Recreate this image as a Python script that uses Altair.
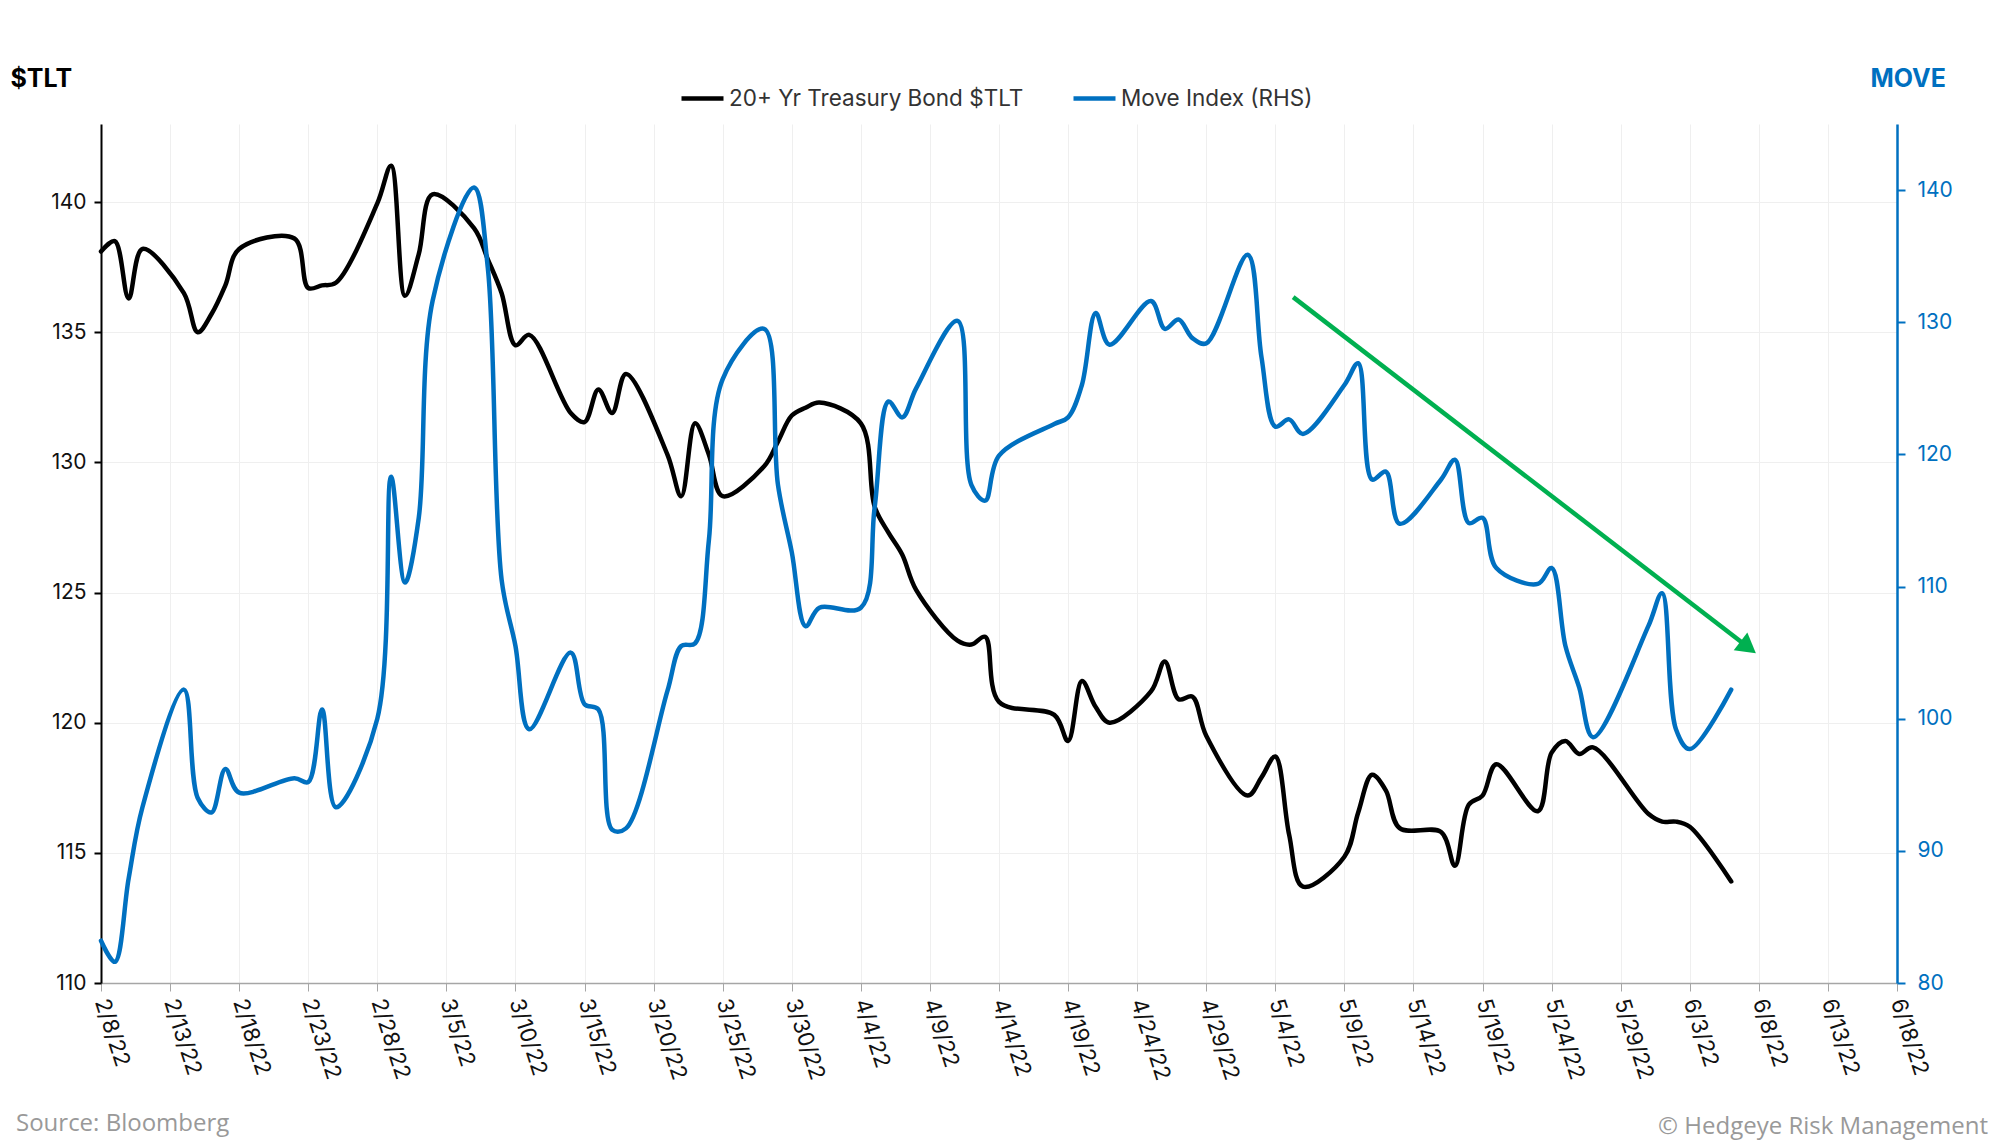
import altair as alt
import pandas as pd

# Trading days shown on the chart
dates = [
    "2022-02-08", "2022-02-09", "2022-02-10", "2022-02-11", "2022-02-14", "2022-02-15",
    "2022-02-16", "2022-02-17", "2022-02-18", "2022-02-22", "2022-02-23", "2022-02-24",
    "2022-02-25", "2022-02-28",
    "2022-03-01", "2022-03-02", "2022-03-03", "2022-03-04", "2022-03-07", "2022-03-08",
    "2022-03-09", "2022-03-10", "2022-03-11", "2022-03-14", "2022-03-15", "2022-03-16",
    "2022-03-17", "2022-03-18", "2022-03-21", "2022-03-22", "2022-03-23", "2022-03-24",
    "2022-03-25", "2022-03-28", "2022-03-29", "2022-03-30", "2022-03-31",
    "2022-04-01", "2022-04-04", "2022-04-05", "2022-04-06", "2022-04-07", "2022-04-08",
    "2022-04-11", "2022-04-12", "2022-04-13", "2022-04-14", "2022-04-18", "2022-04-19",
    "2022-04-20", "2022-04-21", "2022-04-22", "2022-04-25", "2022-04-26", "2022-04-27",
    "2022-04-28", "2022-04-29",
    "2022-05-02", "2022-05-03", "2022-05-04", "2022-05-05", "2022-05-06", "2022-05-09",
    "2022-05-10", "2022-05-11", "2022-05-12", "2022-05-13", "2022-05-16", "2022-05-17",
    "2022-05-18", "2022-05-19", "2022-05-20", "2022-05-23", "2022-05-24", "2022-05-25",
    "2022-05-26", "2022-05-27", "2022-05-31",
    "2022-06-01", "2022-06-02", "2022-06-03", "2022-06-06",
]

# iShares 20+ Year Treasury Bond ETF close
tlt = [
    138.1, 138.5, 136.3, 138.2, 136.5, 135.0, 135.7, 136.8, 138.2, 138.6, 136.7, 136.8,
    136.9, 139.95,
    141.4, 136.4, 138.0, 140.3, 139.0, 137.8, 136.5, 134.5, 134.9, 131.9, 131.55, 132.8,
    131.9, 133.4, 130.3, 128.7, 131.5, 130.3, 128.7, 129.85, 130.8, 131.8, 132.1,
    132.3, 131.5, 128.3, 127.3, 126.45, 125.1, 123.15, 123.0, 123.3, 120.8, 120.3, 119.3,
    121.6, 120.6, 120.0, 121.2, 122.35, 120.9, 121.0, 119.5,
    117.2, 117.9, 118.7, 115.7, 113.7, 114.85, 116.55, 118.0, 117.4, 115.95, 115.8, 114.5,
    116.85, 117.2, 118.4, 116.6, 118.85, 119.3, 118.8, 119.05, 116.5,
    116.2, 116.2, 116.0, 113.9,
]

# ICE BofA MOVE Index
move = [
    83.2, 81.6, 87.9, 93.3, 102.2, 94.0, 92.9, 96.2, 94.4, 95.5, 95.2, 100.7,
    93.3, 100.0,
    118.3, 110.3, 115.2, 131.6, 140.2, 134.1, 110.5, 105.5, 99.2, 105.0, 101.1, 100.7,
    91.6, 91.7, 102.1, 105.5, 105.7, 113.5, 125.7, 129.5, 117.7, 112.6, 107.0,
    108.4, 108.4, 116.0, 124.0, 122.8, 125.0, 130.1, 117.7, 116.5, 119.9, 122.3, 122.8,
    125.25, 130.7, 128.3, 131.6, 129.5, 130.2, 128.8, 128.4,
    135.1, 127.35, 122.1, 122.65, 121.55, 125.25, 126.9, 118.1, 118.7, 114.75, 118.1, 119.6,
    114.8, 115.2, 111.4, 110.2, 111.4, 105.5, 102.35, 98.6, 107.0,
    109.5, 99.2, 97.7, 102.2,
]

# Date axis ticks, every five days
x_ticks = [
    "2022-02-08", "2022-02-13", "2022-02-18", "2022-02-23", "2022-02-28", "2022-03-05",
    "2022-03-10", "2022-03-15", "2022-03-20", "2022-03-25", "2022-03-30", "2022-04-04",
    "2022-04-09", "2022-04-14", "2022-04-19", "2022-04-24", "2022-04-29", "2022-05-04",
    "2022-05-09", "2022-05-14", "2022-05-19", "2022-05-24", "2022-05-29", "2022-06-03",
    "2022-06-08", "2022-06-13", "2022-06-18",
]
tlt_ticks = [110, 115, 120, 125, 130, 135, 140]
move_ticks = [80, 90, 100, 110, 120, 130, 140]

# Downtrend arrow drawn against the MOVE scale
trend_dates = ["2022-05-05T07:00:00Z", "2022-06-07T05:30:00Z"]
trend_values = [131.9, 105.4]
trend_angle = 37.6

series = ["20+ Yr Treasury Bond $TLT", "Move Index (RHS)"]
series_colors = ["#000000", "#0070C0"]
GREEN = "#00B050"
BLUE = "#0070C0"
FONT = "Inter"


def dt(s):
    y, m, d = (int(p) for p in s.split("-"))
    return alt.DateTime(year=y, month=m, date=d, utc=True)


tlt_df = pd.DataFrame({"date": dates, "tlt": tlt, "series": series[0]})
move_df = pd.DataFrame({"date": dates, "move": move, "series": series[1]})
trend_df = pd.DataFrame({"date": trend_dates, "move": trend_values})
head_df = trend_df.tail(1)

x_axis = alt.Axis(
    values=[dt(t) for t in x_ticks],
    labelExpr="utcFormat(datum.value, '%-m/%-d/%y')",
    labelAngle=72,
    labelFont=FONT,
    labelFontSize=22,
    labelColor="#111111",
    labelPadding=8,
    labelOverlap=False,
    grid=True,
    gridColor="#EFEFEF",
    gridWidth=1,
    domainColor="#A6A6A6",
    domainWidth=1.5,
    tickColor="#A6A6A6",
    tickSize=8,
)
x_enc = alt.X(
    "date:T",
    title=None,
    scale=alt.Scale(type="utc", domain=[dt(x_ticks[0]), dt(x_ticks[-1])]),
    axis=x_axis,
)

color_enc = alt.Color(
    "series:N",
    scale=alt.Scale(domain=series, range=series_colors),
    legend=alt.Legend(
        orient="none",
        legendX=578,
        legendY=-49,
        direction="horizontal",
        title=None,
        symbolType="stroke",
        symbolStrokeWidth=4.5,
        symbolSize=1764,
        labelFont=FONT,
        labelFontSize=22.5,
        labelColor="#333333",
        labelLimit=0,
        labelOffset=3,
        columnPadding=40,
    ),
)

tlt_y = alt.Y(
    "tlt:Q",
    scale=alt.Scale(domain=[110, 143], nice=False, zero=False),
    axis=alt.Axis(
        orient="left",
        values=tlt_ticks,
        title="$TLT",
        titleAngle=0,
        titleX=-91,
        titleY=-38,
        titleAlign="left",
        titleBaseline="alphabetic",
        titleFont=FONT,
        titleFontSize=25,
        titleFontWeight="bold",
        titleColor="#000000",
        grid=True,
        gridColor="#EFEFEF",
        gridWidth=1,
        domainColor="#000000",
        domainWidth=2,
        tickColor="#000000",
        tickSize=7,
        tickWidth=2,
        labelFont=FONT,
        labelFontSize=21,
        labelColor="#111111",
        labelPadding=8,
    ),
)

move_y = alt.Y(
    "move:Q",
    scale=alt.Scale(domain=[80, 145], nice=False, zero=False),
    axis=alt.Axis(
        orient="right",
        values=move_ticks,
        title="MOVE",
        titleAngle=0,
        titleX=-27,
        titleY=-38,
        titleAlign="left",
        titleBaseline="alphabetic",
        titleFont=FONT,
        titleFontSize=25,
        titleFontWeight="bold",
        titleColor=BLUE,
        grid=False,
        domainColor=BLUE,
        domainWidth=2.5,
        tickColor=BLUE,
        tickSize=8,
        tickWidth=2,
        labelFont=FONT,
        labelFontSize=21,
        labelColor=BLUE,
        labelPadding=12,
    ),
)

tlt_line = alt.Chart(tlt_df).mark_line(
    interpolate="catmull-rom", strokeWidth=4.5, strokeCap="round"
).encode(x=x_enc, y=tlt_y, color=color_enc)

move_line = alt.Chart(move_df).mark_line(
    interpolate="catmull-rom", strokeWidth=4.5, strokeCap="round"
).encode(x=x_enc, y=move_y, color=color_enc)

trend_line = alt.Chart(trend_df).mark_line(
    color=GREEN, strokeWidth=4.5
).encode(x=x_enc, y=move_y)

trend_head = alt.Chart(head_df).mark_point(
    shape="triangle-right", filled=True, color=GREEN, opacity=1,
    size=500, angle=trend_angle
).encode(x=x_enc, y=move_y)

move_group = alt.layer(move_line, trend_line, trend_head)

source_note = alt.Chart(pd.DataFrame({"note": ["Source: Bloomberg"]})).mark_text(
    align="left", baseline="alphabetic", font="Open Sans", fontSize=24, color="#999999"
).encode(x=alt.value(-85), y=alt.value(1007), text="note:N")

credit_note = alt.Chart(pd.DataFrame({"note": ["© Hedgeye Risk Management"]})).mark_text(
    align="right", baseline="alphabetic", font="Open Sans", fontSize=24, color="#999999"
).encode(x=alt.value(1887), y=alt.value(1010), text="note:N")

chart = (
    alt.layer(tlt_line, move_group, source_note, credit_note)
    .resolve_scale(y="independent")
    .properties(
        width=1796,
        height=859,
        padding={"left": 101, "top": 124, "right": 105, "bottom": 161},
        autosize=alt.AutoSizeParams(type="none"),
        background="white",
    )
    .configure_view(stroke="transparent")
)

chart.save("out.html", embed_options={"renderer": "svg", "actions": False})
